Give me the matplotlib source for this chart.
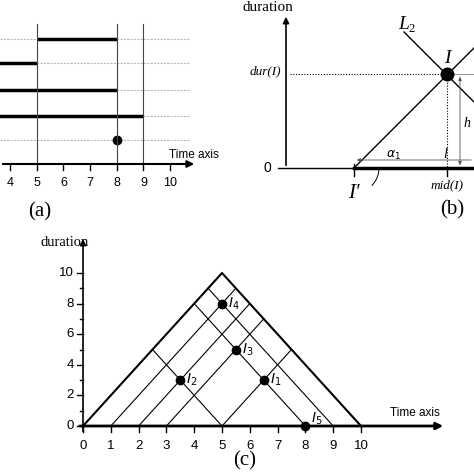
import matplotlib
matplotlib.use("Agg")
import matplotlib.pyplot as plt
from matplotlib.patches import Arc

# interval data (start, end)
intervals_a = [(5, 8), (2, 5), (3, 8), (1, 9), (8, 8)]
vlines_a = [5, 8, 9]
ticks_a = [4, 5, 6, 7, 8, 9, 10]
points_c = {"I_1": (6.5, 3), "I_2": (3.5, 3), "I_3": (5.5, 5), "I_4": (5, 8), "I_5": (8, 0)}
starts_c = [1, 2, 3, 5]
ends_c = [5, 8, 9]
ticks_cx = list(range(11))
ticks_cy = [0, 2, 4, 6, 8, 10]

fig = plt.figure(figsize=(4.74, 4.74), dpi=100)
ax = fig.add_axes([0, 0, 1, 1])
ax.set_xlim(0, 474); ax.set_ylim(474, 0); ax.axis("off")
SANS = "Liberation Sans"; SERIF = "Liberation Serif"

# ---------- panel (a)
def xa(v): return 10 + (v - 4) * 26.7
rows = [39, 63, 90, 116, 140]
ya0 = 164
for (s, e), y in zip(intervals_a, rows):
    ax.plot([0, 190], [y, y], color="#bbbbbb", lw=0.8, ls=(0, (2, 1)))
    if s == e:
        ax.plot(xa(s), y, "o", color="k", ms=6)
    else:
        ax.plot([xa(s), xa(e)], [y, y], color="k", lw=2.5, solid_capstyle="butt")
for v in vlines_a:
    ax.plot([xa(v), xa(v)], [24, ya0], color="#444444", lw=0.8)
ax.annotate("", xy=(197, ya0), xytext=(0, ya0),
            arrowprops=dict(arrowstyle="-|>", color="k", lw=1.5, mutation_scale=10))
for t in ticks_a:
    ax.plot([xa(t), xa(t)], [ya0, ya0 + 6], color="k", lw=1)
    ax.text(xa(t), 183, str(t), ha="center", va="center", fontsize=9, family=SANS)
ax.text(194, 155, "Time axis", ha="center", va="center", fontsize=8.5, family=SANS)
ax.text(40, 212, "(a)", ha="center", va="center", fontsize=15, family=SERIF)

# ---------- panel (b)
yb0 = 168; xp = 354; xm = 447; yI = 74
ax.annotate("", xy=(286, 14), xytext=(286, yb0),
            arrowprops=dict(arrowstyle="-|>", color="k", lw=1.2, mutation_scale=9))
ax.plot([278, 474], [yb0, yb0], color="k", lw=1)
ax.plot([xp, 474], [yb0, yb0], color="k", lw=2.5)
ax.plot([xp, xp], [yb0 - 4, yb0 + 8], color="k", lw=1)
ax.plot([xm, xm], [yb0, yb0 + 8], color="k", lw=1)
ax.plot([xp, 474], [yb0, yb0 - (474 - xp)], color="k", lw=1)
ax.plot([404, 474], [32, 102], color="k", lw=1)
ax.plot([290, xm], [yI, yI], color="k", lw=0.8, ls=(0, (1, 1.5)))
ax.plot([xm, xm], [yI, yb0], color="k", lw=0.8, ls=(0, (1, 1.5)))
ax.plot([xm, 474], [yI, yI], color="#888888", lw=0.6)
ax.plot(xm, yI, "o", color="k", ms=9)
ax.annotate("", xy=(460, yI), xytext=(460, yb0),
            arrowprops=dict(arrowstyle="<|-|>", color="#555555", lw=0.6, mutation_scale=5))
ax.annotate("", xy=(xp, 160), xytext=(474, 160),
            arrowprops=dict(arrowstyle="-|>", color="#555555", lw=0.6, mutation_scale=5))
ax.add_patch(Arc((xp, yb0), 50, 50, theta1=0, theta2=45, color="k", lw=0.7))
ax.text(386, 155, r"$\alpha_1$", fontsize=9, family=SERIF, va="center")
ax.text(443, 154, "l", fontsize=10, family=SERIF, style="italic", va="center")
ax.text(467, 123, "h", fontsize=10, family=SERIF, style="italic", va="center", ha="center")
ax.text(447, 58, "I", fontsize=14, family=SERIF, style="italic", ha="center", va="center")
ax.text(404, 24, "L", fontsize=14, family=SERIF, style="italic", ha="center", va="center")
ax.text(412, 29, "2", fontsize=9, family=SERIF, ha="center", va="center")
ax.text(267, 168, "0", fontsize=10, family=SANS, ha="center", va="center")
ax.text(265, 71, "dur(I)", fontsize=9.5, family=SERIF, style="italic", ha="center", va="center")
ax.text(447, 185, "mid(I)", fontsize=9.5, family=SERIF, style="italic", ha="center", va="center")
ax.text(354, 194, "I'", fontsize=15, family=SERIF, style="italic", ha="center", va="center")
ax.text(268, 7, "duration", fontsize=11, family=SERIF, ha="center", va="center")
ax.text(452, 210, "(b)", fontsize=15, family=SERIF, ha="center", va="center")

# ---------- panel (c)
def xc(v): return 83 + v * 27.8
def yc(v): return 426 - v * 15.3
ax.annotate("", xy=(xc(0), 236), xytext=(xc(0), yc(0) + 8),
            arrowprops=dict(arrowstyle="-|>", color="k", lw=1.2, mutation_scale=9))
ax.annotate("", xy=(446, yc(0)), xytext=(xc(0) - 6, yc(0)),
            arrowprops=dict(arrowstyle="-|>", color="k", lw=2, mutation_scale=10))
for t in ticks_cx:
    ax.plot([xc(t), xc(t)], [yc(0), yc(0) + 6], color="k", lw=1)
    ax.text(xc(t), 446, str(t), ha="center", va="center", fontsize=9.5, family=SANS)
for t in range(11):
    ax.plot([xc(0) - (6 if t % 2 == 0 else 3), xc(0)], [yc(t), yc(t)], color="k", lw=1)
for t in ticks_cy:
    ax.text(xc(0) - 9, yc(t), str(t), ha="right", va="center", fontsize=9.5, family=SANS)
ax.plot([xc(0), xc(5), xc(10)], [yc(0), yc(10), yc(0)], color="k", lw=1.5)
for s in starts_c:
    xe = (10 + s) / 2
    ax.plot([xc(s), xc(xe)], [yc(0), yc(2 * (xe - s))], color="k", lw=0.8)
for e in ends_c:
    xe = e / 2
    ax.plot([xc(e), xc(xe)], [yc(0), yc(2 * (e - xe))], color="k", lw=0.8)
for name, (px, py) in points_c.items():
    ax.plot(xc(px), yc(py), "o", color="k", ms=6)
    dy = -7 if name == "I_5" else 0
    ax.text(xc(px) + 6, yc(py) + dy, "$" + name + "$", fontsize=10, va="center", family=SERIF)
ax.text(65, 242, "duration", fontsize=10.5, family=SERIF, ha="center", va="center")
ax.text(415, 413, "Time axis", fontsize=8.5, family=SANS, ha="center", va="center")
ax.text(245, 461, "(c)", fontsize=15, family=SERIF, ha="center", va="center")

plt.rcParams["mathtext.fontset"] = "dejavuserif"
fig.savefig("out.png", dpi=100)
